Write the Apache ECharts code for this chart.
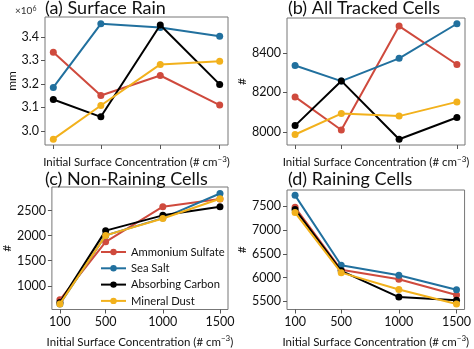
<!DOCTYPE html>
<html><head><meta charset="utf-8">
<script src="https://cdn.jsdelivr.net/npm/echarts@6/dist/echarts.min.js"></script>
<style>html,body{margin:0;padding:0;background:#fff}#c{width:474px;height:349px}</style>
</head><body><div id="c"></div>
<script>
const concentrations = [100, 500, 1000, 1500];
const seriesNames = ['Ammonium Sulfate', 'Sea Salt', 'Absorbing Carbon', 'Mineral Dust'];
const panelTitles = ['(a) Surface Rain', '(b) All Tracked Cells', '(c) Non-Raining Cells', '(d) Raining Cells'];
// (a) Surface rain, ×10^6 mm
const rainAS = [3.335, 3.151, 3.236, 3.110];
const rainSS = [3.185, 3.456, 3.440, 3.403];
const rainAC = [3.134, 3.060, 3.451, 3.198];
const rainMD = [2.965, 3.108, 3.283, 3.297];
// (b) All tracked cells
const allAS = [8177, 8010, 8535, 8341];
const allSS = [8336, 8257, 8372, 8547];
const allAC = [8032, 8258, 7963, 8073];
const allMD = [7987, 8093, 8080, 8152];
// (c) Non-raining cells
const nonAS = [720, 1877, 2577, 2730];
const nonSS = [638, 2005, 2350, 2840];
const nonAC = [670, 2100, 2405, 2577];
const nonMD = [640, 2005, 2341, 2735];
// (d) Raining cells
const rainCellAS = [7480, 6162, 5964, 5633];
const rainCellSS = [7732, 6260, 6048, 5743];
const rainCellAC = [7435, 6142, 5587, 5520];
const rainCellMD = [7369, 6103, 5749, 5441];
// tick labels
const xTicks = [100, 500, 1000, 1500];
const yTicksA = [3.0, 3.1, 3.2, 3.3, 3.4];
const yTicksB = [8000, 8200, 8400];
const yTicksC = [1000, 1500, 2000, 2500];
const yTicksD = [5500, 6000, 6500, 7000, 7500];

const colors = ['#cf4a3d', '#21709e', '#000000', '#f2b11c'];
const FONT = 'Lato';
const panelData = [
  [rainAS, rainSS, rainAC, rainMD],
  [allAS, allSS, allAC, allMD],
  [nonAS, nonSS, nonAC, nonMD],
  [rainCellAS, rainCellSS, rainCellAC, rainCellMD]
];
const yRanges = [[2.94, 3.485], [7934, 8576], [528, 2970], [5326, 7845]];
const yTicks = [yTicksA, yTicksB, yTicksC, yTicksD];
const yNames = ['mm', '#', '#', '#'];
const grids = [
  {left: 45, top: 17, width: 183, height: 128},
  {left: 287, top: 18, width: 178, height: 127},
  {left: 45, top: 187, width: 183, height: 129},
  {left: 287, top: 190, width: 178, height: 127}
];
const titlePos = [[45, -1], [288, -1], [45, 170], [288, 170]];

const xName = 'Initial Surface Concentration (# cm{sup|−3})';
const axisGrey = '#555';

const option = {
  animation: false,
  backgroundColor: '#fff',
  textStyle: {fontFamily: FONT},
  title: panelTitles.map((t, i) => ({
    text: t, left: titlePos[i][0], top: titlePos[i][1], padding: 0,
    textStyle: {fontFamily: FONT, fontSize: 18, fontWeight: 'normal', color: '#111'}
  })),
  grid: grids.map(g => Object.assign({show: true, borderColor: '#777', borderWidth: 1, backgroundColor: 'transparent'}, g)),
  xAxis: grids.map((g, i) => ({
    type: 'value', gridIndex: i, min: 30, max: 1570,
    name: xName, nameLocation: 'middle', nameGap: i < 2 ? 10 : 25,
    nameTextStyle: {fontFamily: FONT, fontSize: 11.5, color: '#111',
      rich: {sup: {fontSize: 8, fontFamily: FONT, color: '#111', padding: [0, 0, 7, 0]}}},
    axisLine: {show: false},
    splitLine: {show: false},
    axisTick: {show: true, inside: false, length: 4, lineStyle: {color: axisGrey}, customValues: xTicks},
    axisLabel: {show: i >= 2, customValues: xTicks, fontFamily: FONT, fontSize: 12.5, color: '#111', margin: 6,
      formatter: v => String(Math.round(v))}
  })),
  yAxis: grids.map((g, i) => ({
    type: 'value', gridIndex: i, min: yRanges[i][0], max: yRanges[i][1],
    name: yNames[i], nameLocation: 'middle', nameGap: i === 0 ? 25 : (i === 2 ? 38 : 33), nameRotate: 90,
    nameTextStyle: {fontFamily: FONT, fontSize: 12, color: '#111'},
    axisLine: {show: false},
    splitLine: {show: false},
    axisTick: {show: true, inside: false, length: 4, lineStyle: {color: axisGrey}, customValues: yTicks[i]},
    axisLabel: {customValues: yTicks[i], fontFamily: FONT, fontSize: 12.5, color: '#111', margin: 6,
      formatter: v => i === 0 ? v.toFixed(1) : String(Math.round(v))}
  })),
  legend: {
    data: seriesNames, orient: 'vertical', left: 95, top: 241,
    itemWidth: 25, itemHeight: 8, itemGap: 4.3,
    textStyle: {fontFamily: FONT, fontSize: 11.2, lineHeight: 12, color: '#111'},
    backgroundColor: 'transparent'
  },
  graphic: [{
    type: 'text', left: 15, top: 5,
    style: {text: '×10{s|6}', fontFamily: FONT, fontSize: 10, fill: '#333',
      rich: {s: {fontSize: 7, fontFamily: FONT, fill: '#333', padding: [0, 0, 5, 0]}}}
  }],
  series: []
};

panelData.forEach((arrs, p) => {
  arrs.forEach((vals, k) => {
    option.series.push({
      type: 'line', name: seriesNames[k], xAxisIndex: p, yAxisIndex: p,
      data: concentrations.map((x, j) => [x, vals[j]]),
      symbol: 'circle', symbolSize: 7,
      lineStyle: {width: 2, color: colors[k]},
      itemStyle: {color: colors[k]},
      z: 2 + k
    });
  });
});

const chart = echarts.init(document.getElementById('c'), null, {renderer: 'canvas'});
chart.setOption(option);
</script></body></html>
